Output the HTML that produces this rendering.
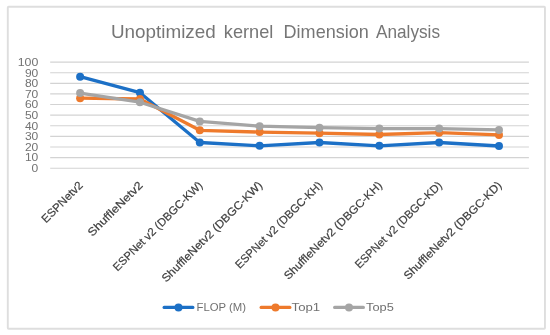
<!DOCTYPE html>
<html><head><meta charset="utf-8"><title>Unoptimized kernel Dimension Analysis</title>
<style>html,body{margin:0;padding:0;background:#fff}body{width:550px;height:335px;overflow:hidden}</style></head>
<body>
<svg width="550" height="335" viewBox="0 0 550 335" style="display:block;font-family:'Liberation Sans',sans-serif">
<rect x="0" y="0" width="550" height="335" fill="#fff"/>
<rect x="7.8" y="6.7" width="537.15" height="322" rx="0.8" fill="#fff" stroke="#dedede" stroke-width="1.9"/>
<line x1="50.2" x2="528.9" y1="168.20" y2="168.20" stroke="#d3d3d3" stroke-width="1.15"/>
<text x="38.3" y="172.00" font-size="10.9" fill="#727272" text-anchor="end" textLength="6.7" lengthAdjust="spacingAndGlyphs">0</text>
<line x1="50.2" x2="528.9" y1="157.59" y2="157.59" stroke="#d3d3d3" stroke-width="1.15"/>
<text x="38.3" y="161.39" font-size="10.9" fill="#727272" text-anchor="end" textLength="13.4" lengthAdjust="spacingAndGlyphs">10</text>
<line x1="50.2" x2="528.9" y1="146.98" y2="146.98" stroke="#d3d3d3" stroke-width="1.15"/>
<text x="38.3" y="150.78" font-size="10.9" fill="#727272" text-anchor="end" textLength="13.4" lengthAdjust="spacingAndGlyphs">20</text>
<line x1="50.2" x2="528.9" y1="136.37" y2="136.37" stroke="#d3d3d3" stroke-width="1.15"/>
<text x="38.3" y="140.17" font-size="10.9" fill="#727272" text-anchor="end" textLength="13.4" lengthAdjust="spacingAndGlyphs">30</text>
<line x1="50.2" x2="528.9" y1="125.76" y2="125.76" stroke="#d3d3d3" stroke-width="1.15"/>
<text x="38.3" y="129.56" font-size="10.9" fill="#727272" text-anchor="end" textLength="13.4" lengthAdjust="spacingAndGlyphs">40</text>
<line x1="50.2" x2="528.9" y1="115.15" y2="115.15" stroke="#d3d3d3" stroke-width="1.15"/>
<text x="38.3" y="118.95" font-size="10.9" fill="#727272" text-anchor="end" textLength="13.4" lengthAdjust="spacingAndGlyphs">50</text>
<line x1="50.2" x2="528.9" y1="104.54" y2="104.54" stroke="#d3d3d3" stroke-width="1.15"/>
<text x="38.3" y="108.34" font-size="10.9" fill="#727272" text-anchor="end" textLength="13.4" lengthAdjust="spacingAndGlyphs">60</text>
<line x1="50.2" x2="528.9" y1="93.93" y2="93.93" stroke="#d3d3d3" stroke-width="1.15"/>
<text x="38.3" y="97.73" font-size="10.9" fill="#727272" text-anchor="end" textLength="13.4" lengthAdjust="spacingAndGlyphs">70</text>
<line x1="50.2" x2="528.9" y1="83.32" y2="83.32" stroke="#d3d3d3" stroke-width="1.15"/>
<text x="38.3" y="87.12" font-size="10.9" fill="#727272" text-anchor="end" textLength="13.4" lengthAdjust="spacingAndGlyphs">80</text>
<line x1="50.2" x2="528.9" y1="72.71" y2="72.71" stroke="#d3d3d3" stroke-width="1.15"/>
<text x="38.3" y="76.51" font-size="10.9" fill="#727272" text-anchor="end" textLength="13.4" lengthAdjust="spacingAndGlyphs">90</text>
<line x1="50.2" x2="528.9" y1="62.10" y2="62.10" stroke="#d3d3d3" stroke-width="1.15"/>
<text x="38.3" y="65.90" font-size="10.9" fill="#727272" text-anchor="end" textLength="20.6" lengthAdjust="spacingAndGlyphs">100</text>
<text y="37.8" font-size="18.2" fill="#767676" xml:space="preserve"><tspan x="111.0" textLength="104.7" lengthAdjust="spacingAndGlyphs">Unoptimized</tspan> <tspan x="223.8" textLength="49.5" lengthAdjust="spacingAndGlyphs">kernel</tspan> <tspan x="283.6" textLength="85.2" lengthAdjust="spacingAndGlyphs">Dimension</tspan> <tspan x="376.0" textLength="64.0" lengthAdjust="spacingAndGlyphs">Analysis</tspan></text>
<polyline points="80.12,76.70 139.96,92.70 199.79,142.50 259.63,145.80 319.47,142.50 379.31,145.80 439.14,142.50 498.98,146.00" fill="none" stroke="#1c70c6" stroke-width="3.3" stroke-linejoin="round" stroke-linecap="round"/>
<circle cx="80.12" cy="76.70" r="4" fill="#1c70c6"/>
<circle cx="139.96" cy="92.70" r="4" fill="#1c70c6"/>
<circle cx="199.79" cy="142.50" r="4" fill="#1c70c6"/>
<circle cx="259.63" cy="145.80" r="4" fill="#1c70c6"/>
<circle cx="319.47" cy="142.50" r="4" fill="#1c70c6"/>
<circle cx="379.31" cy="145.80" r="4" fill="#1c70c6"/>
<circle cx="439.14" cy="142.50" r="4" fill="#1c70c6"/>
<circle cx="498.98" cy="146.00" r="4" fill="#1c70c6"/>
<polyline points="80.12,98.20 139.96,99.00 199.79,130.30 259.63,132.10 319.47,133.20 379.31,134.50 439.14,132.70 498.98,134.90" fill="none" stroke="#ee7a2c" stroke-width="3.3" stroke-linejoin="round" stroke-linecap="round"/>
<circle cx="80.12" cy="98.20" r="4" fill="#ee7a2c"/>
<circle cx="139.96" cy="99.00" r="4" fill="#ee7a2c"/>
<circle cx="199.79" cy="130.30" r="4" fill="#ee7a2c"/>
<circle cx="259.63" cy="132.10" r="4" fill="#ee7a2c"/>
<circle cx="319.47" cy="133.20" r="4" fill="#ee7a2c"/>
<circle cx="379.31" cy="134.50" r="4" fill="#ee7a2c"/>
<circle cx="439.14" cy="132.70" r="4" fill="#ee7a2c"/>
<circle cx="498.98" cy="134.90" r="4" fill="#ee7a2c"/>
<polyline points="80.12,93.10 139.96,102.20 199.79,121.40 259.63,126.20 319.47,127.70 379.31,128.60 439.14,128.60 498.98,129.90" fill="none" stroke="#a5a5a5" stroke-width="3.3" stroke-linejoin="round" stroke-linecap="round"/>
<circle cx="80.12" cy="93.10" r="4" fill="#a5a5a5"/>
<circle cx="139.96" cy="102.20" r="4" fill="#a5a5a5"/>
<circle cx="199.79" cy="121.40" r="4" fill="#a5a5a5"/>
<circle cx="259.63" cy="126.20" r="4" fill="#a5a5a5"/>
<circle cx="319.47" cy="127.70" r="4" fill="#a5a5a5"/>
<circle cx="379.31" cy="128.60" r="4" fill="#a5a5a5"/>
<circle cx="439.14" cy="128.60" r="4" fill="#a5a5a5"/>
<circle cx="498.98" cy="129.90" r="4" fill="#a5a5a5"/>
<text transform="translate(83.52,186) rotate(-45)" font-size="11.3" fill="#3e3e3e" stroke="#3e3e3e" stroke-width="0.2" x="-53.0" textLength="53.0" lengthAdjust="spacingAndGlyphs">ESPNetv2</text>
<text transform="translate(143.36,186) rotate(-45)" font-size="11.3" fill="#3e3e3e" stroke="#3e3e3e" stroke-width="0.2" x="-72.2" textLength="72.2" lengthAdjust="spacingAndGlyphs">ShuffleNetv2</text>
<text transform="translate(203.19,186) rotate(-45)" font-size="11.3" fill="#3e3e3e" stroke="#3e3e3e" stroke-width="0.2" x="-121.2" textLength="121.2" lengthAdjust="spacingAndGlyphs">ESPNet v2 (DBGC-KW)</text>
<text transform="translate(263.03,186) rotate(-45)" font-size="11.3" fill="#3e3e3e" stroke="#3e3e3e" stroke-width="0.2" x="-136.9" textLength="136.9" lengthAdjust="spacingAndGlyphs">ShuffleNetv2 (DBGC-KW)</text>
<text transform="translate(322.87,186) rotate(-45)" font-size="11.3" fill="#3e3e3e" stroke="#3e3e3e" stroke-width="0.2" x="-117.6" textLength="117.6" lengthAdjust="spacingAndGlyphs">ESPNet v2 (DBGC-KH)</text>
<text transform="translate(382.71,186) rotate(-45)" font-size="11.3" fill="#3e3e3e" stroke="#3e3e3e" stroke-width="0.2" x="-133.3" textLength="133.3" lengthAdjust="spacingAndGlyphs">ShuffleNetv2 (DBGC-KH)</text>
<text transform="translate(442.54,186) rotate(-45)" font-size="11.3" fill="#3e3e3e" stroke="#3e3e3e" stroke-width="0.2" x="-117.5" textLength="117.5" lengthAdjust="spacingAndGlyphs">ESPNet v2 (DBGC-KD)</text>
<text transform="translate(502.38,186) rotate(-45)" font-size="11.3" fill="#3e3e3e" stroke="#3e3e3e" stroke-width="0.2" x="-133.2" textLength="133.2" lengthAdjust="spacingAndGlyphs">ShuffleNetv2 (DBGC-KD)</text>
<line x1="164.1" x2="192.9" y1="307.4" y2="307.4" stroke="#1c70c6" stroke-width="3.1" stroke-linecap="round"/>
<circle cx="178.5" cy="307.4" r="4" fill="#1c70c6"/>
<text x="196.5" y="311.0" font-size="10.8" fill="#707070" textLength="49.6" lengthAdjust="spacingAndGlyphs">FLOP (M)</text>
<line x1="261.1" x2="289.9" y1="307.4" y2="307.4" stroke="#ee7a2c" stroke-width="3.1" stroke-linecap="round"/>
<circle cx="275.5" cy="307.4" r="4" fill="#ee7a2c"/>
<text x="291.6" y="311.0" font-size="10.8" fill="#707070" textLength="28.6" lengthAdjust="spacingAndGlyphs">Top1</text>
<line x1="334.6" x2="363.4" y1="307.4" y2="307.4" stroke="#a5a5a5" stroke-width="3.1" stroke-linecap="round"/>
<circle cx="349.0" cy="307.4" r="4" fill="#a5a5a5"/>
<text x="366.0" y="311.0" font-size="10.8" fill="#707070" textLength="27.8" lengthAdjust="spacingAndGlyphs">Top5</text>
</svg>
</body></html>
